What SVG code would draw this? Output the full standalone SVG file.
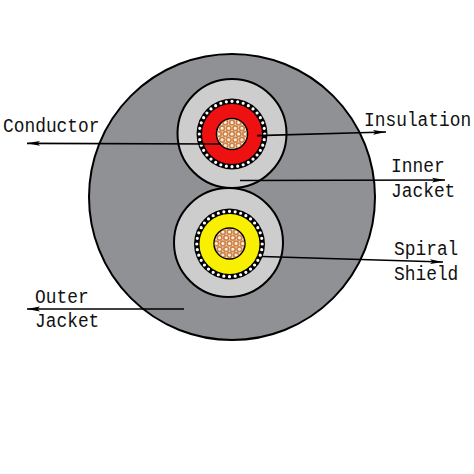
<svg xmlns="http://www.w3.org/2000/svg" xmlns:xlink="http://www.w3.org/1999/xlink" width="474" height="474" viewBox="0 0 474 474">
<style>
.o{stroke:#000;stroke-width:2}
.outer{fill:#8f9194}
.in{fill:#cdcdce}
.ring{fill:#000}
.dots{fill:none;stroke:#fff;stroke-width:3.2;stroke-linecap:round;stroke-dasharray:0 1}
.core{fill:#fbf0e2;stroke:#000;stroke-width:1.5}
.w{fill:none;stroke:#cf8348;stroke-width:1.7}
.w circle{r:2.4px}
.c{fill:none;stroke:#000;stroke-width:1.7;marker-end:url(#a)}
text{font-family:"Liberation Mono","Courier New",monospace;font-size:20.8px;fill:#111}
</style>
<defs>
<marker id="a" markerUnits="userSpaceOnUse" markerWidth="14" markerHeight="6" refX="13" refY="3" orient="auto"><path d="M0 .6L13 3L0 5.4L2.5 3Z" fill="#000"/></marker>
<clipPath id="cc"><circle r="15"/></clipPath>
<g id="strand">
<g clip-path="url(#cc)" class="w">
<circle r="2.4"/>
<circle cx="6.6" r="2.4"/><circle cx="-6.6" r="2.4"/>
<circle cx="3.3" cy="5.8" r="2.4"/><circle cx="-3.3" cy="5.8" r="2.4"/>
<circle cx="3.3" cy="-5.8" r="2.4"/><circle cx="-3.3" cy="-5.8" r="2.4"/>
<circle cx="13.2" r="2.4"/><circle cx="-13.2" r="2.4"/>
<circle cx="9.9" cy="5.8" r="2.4"/><circle cx="-9.9" cy="5.8" r="2.4"/>
<circle cx="9.9" cy="-5.8" r="2.4"/><circle cx="-9.9" cy="-5.8" r="2.4"/>
<circle cx="6.6" cy="11.5" r="2.4"/><circle cx="-6.6" cy="11.5" r="2.4"/><circle cy="11.5" r="2.4"/>
<circle cx="6.6" cy="-11.5" r="2.4"/><circle cx="-6.6" cy="-11.5" r="2.4"/><circle cy="-11.5" r="2.4"/>
</g>
</g>
</defs>
<rect width="474" height="474" fill="#fff"/>
<g id="outer-jacket"><circle class="outer o" cx="232" cy="197" r="143"/></g>
<g id="cable-top">
<circle class="in o" cx="232" cy="133.5" r="54.5"/>
<circle class="ring" cx="232" cy="134" r="35.5"/>
<circle class="dots" cx="232" cy="134" r="32.7" pathLength="36"/>
<circle cx="232" cy="134" r="30" fill="#ee1111"/>
<circle class="core" cx="232" cy="134" r="15.5"/>
<use xlink:href="#strand" href="#strand" x="232" y="134"/>
</g>
<g id="cable-bottom">
<circle class="in o" cx="228.5" cy="242.5" r="54.5"/>
<circle class="ring" cx="229.5" cy="244" r="35.5"/>
<circle class="dots" cx="229.5" cy="244" r="32.7" pathLength="36"/>
<circle cx="229.5" cy="244" r="30" fill="#f8f000"/>
<circle class="core" cx="229.5" cy="243.5" r="15.5"/>
<use xlink:href="#strand" href="#strand" x="229.5" y="243.5"/>
</g>
<g id="connectors">
<path class="c" d="M221 144L27 143.3"/>
<path class="c" d="M257 135.7L386 132"/>
<path class="c" d="M240 180.5L445 180"/>
<path class="c" d="M262 256.5L443 262"/>
<path class="c" d="M184 309L27 309"/>
</g>
<g id="labels">
<text id="conductor" transform="translate(3 132) scale(.86 1)">Conductor</text>
<text id="insulation" transform="translate(364 126) scale(.86 1)">Insulation</text>
<text transform="translate(391 172) scale(.86 1)">Inner</text>
<text transform="translate(391 197) scale(.86 1)">Jacket</text>
<text transform="translate(394 255) scale(.86 1)">Spiral</text>
<text transform="translate(394 280) scale(.86 1)">Shield</text>
<text transform="translate(35 303) scale(.86 1)">Outer</text>
<text transform="translate(35 327) scale(.86 1)">Jacket</text>
</g>
</svg>
